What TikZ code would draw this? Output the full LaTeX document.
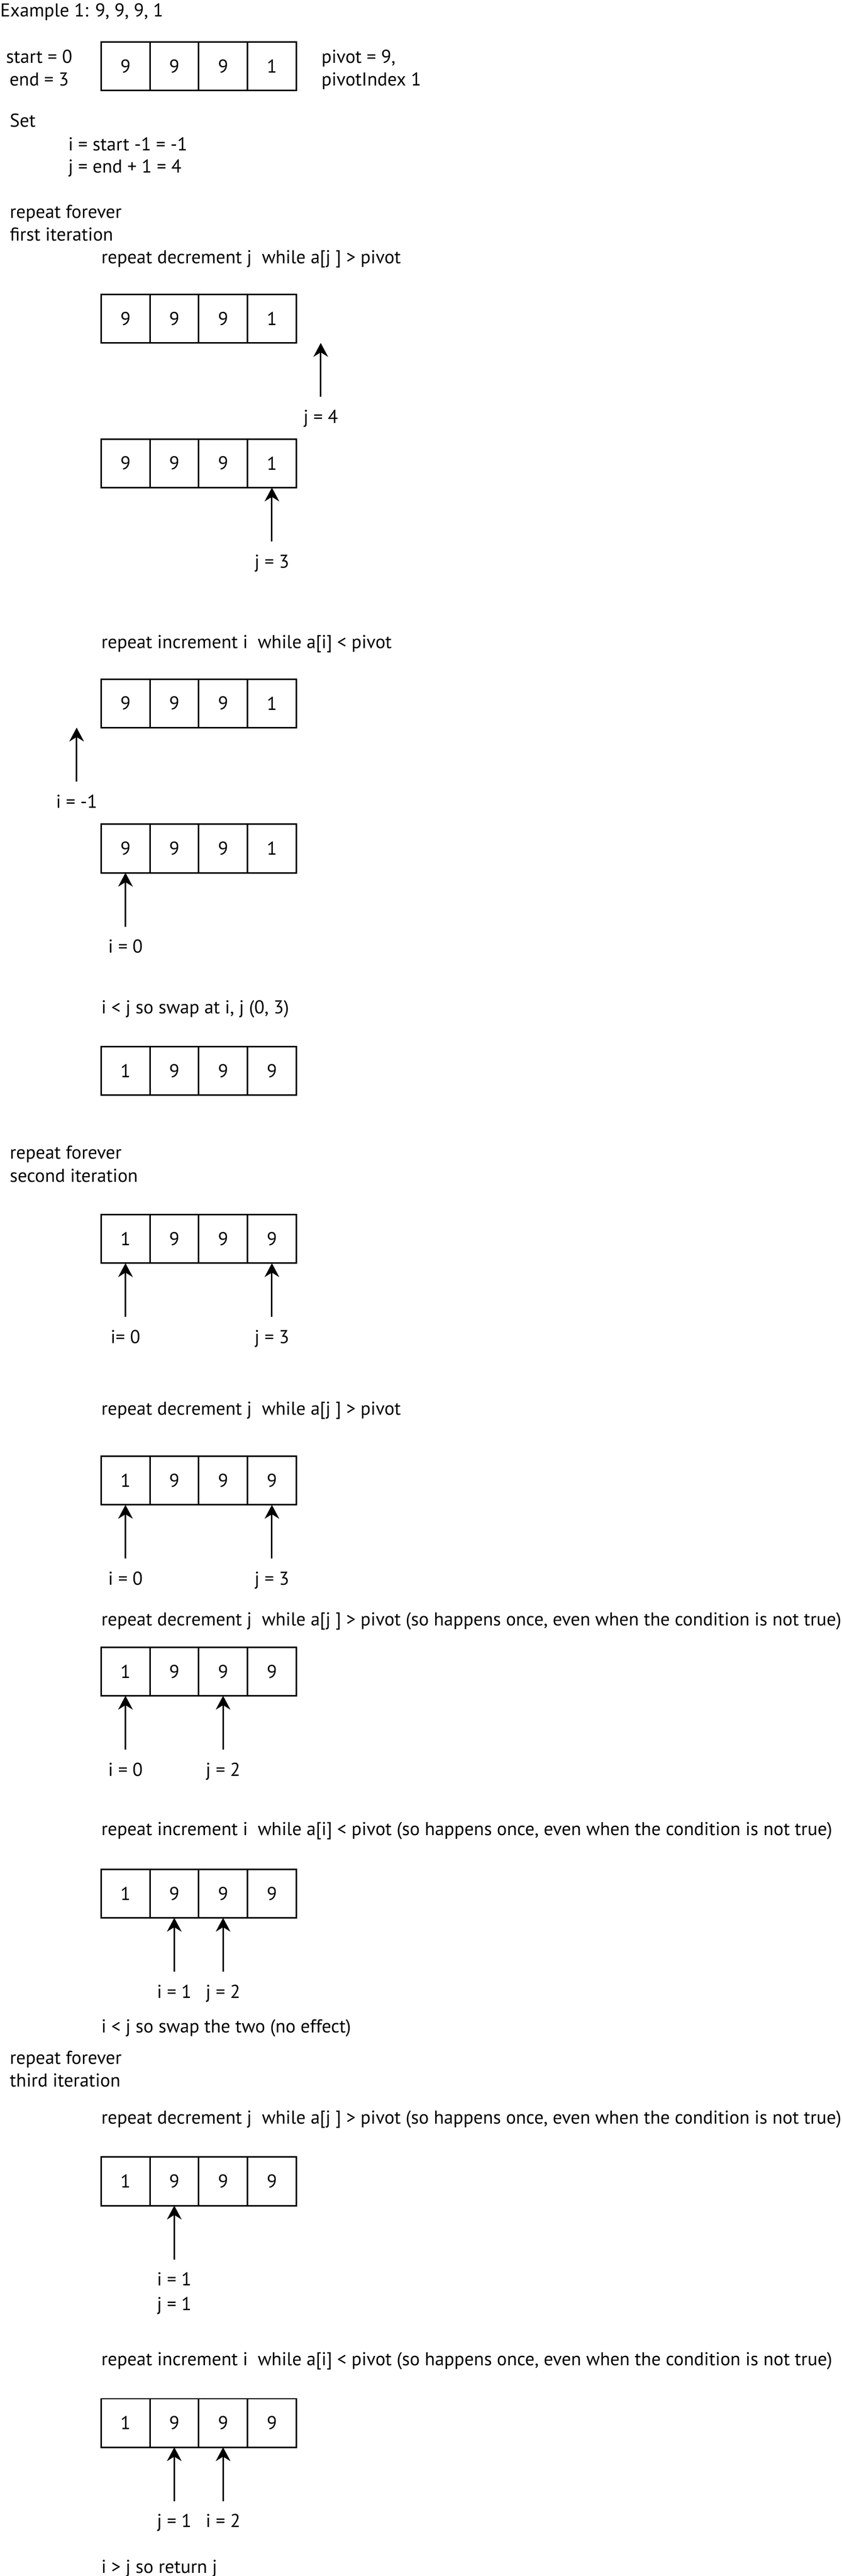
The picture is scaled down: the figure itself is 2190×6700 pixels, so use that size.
\documentclass[tikz,border=0pt]{standalone}
\usepackage{fontspec}
\setmainfont{PT Sans}
\usetikzlibrary{arrows.meta, positioning}
\tikzset{
    cell/.style = {rectangle, draw=black, line width=0.04cm, minimum width=1.27cm, minimum height=1.26cm, inner sep=0pt, outer sep=0pt},
    note/.style = {anchor=base west, inner sep=0pt},
    ptrlabel/.style = {inner sep=0pt, text height=0.34cm, text depth=0.11cm},
    ptr/.style = {line width=0.04cm, -{Stealth[length=0.36cm, width=0.38cm]}, shorten <=0.34cm}
}

\begin{document}
\begin{tikzpicture}[x=0.01cm, y=-0.01cm, font=\fontsize{13.8}{18}\selectfont]
\useasboundingbox (0,0) rectangle (2190,6700);

% Setup
\node (title) [note] at (0,44) {Example 1: 9, 9, 9, 1};
\node (start) [note, anchor=base] at (102,164) {start = 0};
\node (end) [note, anchor=base] at (102,223) {end = 3};
\foreach \v [count=\k from 0] in {9,9,9,1} \node (init-\k) [cell] at (326.5+127*\k,172.5) {\v};
\node (pivot) [note] at (836,164) {pivot = 9,};
\node (pivotIdx) [note] at (836,223) {pivotIndex 1};
\node (set) [note] at (25,330) {Set};
\node (setI) [note] at (177,392) {i = start -1 = -1};
\node (setJ) [note] at (177,450) {j = end + 1 = 4};

% First iteration
\node (rep1) [note] at (25,568) {repeat forever};
\node (iter1) [note] at (25,627) {first iteration};
\node (decTxtA) [note] at (263,686) {repeat decrement j\ \ while a[j ] > pivot};
\foreach \v [count=\k from 0] in {9,9,9,1} \node (decA-\k) [cell] at (326.5+127*\k,829) {\v};
\coordinate (decA-4) at ([xshift=1.27cm]decA-3.south);
\node (jDecA) [ptrlabel, below=1.74cm of decA-4] {j = 4};
\draw [ptr] (jDecA) -- (decA-4);
\foreach \v [count=\k from 0] in {9,9,9,1} \node (decB-\k) [cell] at (326.5+127*\k,1205) {\v};
\node (jDecB) [ptrlabel, below=1.74cm of decB-3.south] {j = 3};
\draw [ptr] (jDecB) -- (decB-3.south);

\node (incTxtA) [note] at (263,1687) {repeat increment i\ \ while a[i] < pivot};
\foreach \v [count=\k from 0] in {9,9,9,1} \node (incA-\k) [cell] at (326.5+127*\k,1829.5) {\v};
\coordinate (incA-m) at ([xshift=-1.27cm]incA-0.south);
\node (iIncA) [ptrlabel, below=1.74cm of incA-m] {i = -1};
\draw [ptr] (iIncA) -- (incA-m);
\foreach \v [count=\k from 0] in {9,9,9,1} \node (incB-\k) [cell] at (326.5+127*\k,2207) {\v};
\node (iIncB) [ptrlabel, below=1.74cm of incB-0.south] {i = 0};
\draw [ptr] (iIncB) -- (incB-0.south);

\node (swapTxtA) [note] at (263,2636) {i < j so swap at i, j (0, 3)};
\foreach \v [count=\k from 0] in {1,9,9,9} \node (swapA-\k) [cell] at (326.5+127*\k,2785.5) {\v};

% Second iteration
\node (rep2) [note] at (25,3014) {repeat forever};
\node (iter2) [note] at (25,3074) {second iteration};
\foreach \v [count=\k from 0] in {1,9,9,9} \node (iterB-\k) [cell] at (326.5+127*\k,3222.5) {\v};
\node (iIterB) [ptrlabel, below=1.74cm of iterB-0.south] {i= 0};
\node (jIterB) [ptrlabel, below=1.74cm of iterB-3.south] {j = 3};
\draw [ptr] (iIterB) -- (iterB-0.south);
\draw [ptr] (jIterB) -- (iterB-3.south);

\node (decTxtC) [note] at (263,3680) {repeat decrement j\ \ while a[j ] > pivot};
\foreach \v [count=\k from 0] in {1,9,9,9} \node (decC-\k) [cell] at (326.5+127*\k,3851) {\v};
\node (iDecC) [ptrlabel, below=1.74cm of decC-0.south] {i = 0};
\node (jDecC) [ptrlabel, below=1.74cm of decC-3.south] {j = 3};
\draw [ptr] (iDecC) -- (decC-0.south);
\draw [ptr] (jDecC) -- (decC-3.south);

\node (decTxtD) [note] at (263,4228) {repeat decrement j\ \ while a[j ] > pivot (so happens once, even when the condition is not true)};
\foreach \v [count=\k from 0] in {1,9,9,9} \node (decD-\k) [cell] at (326.5+127*\k,4347.5) {\v};
\node (iDecD) [ptrlabel, below=1.74cm of decD-0.south] {i = 0};
\node (jDecD) [ptrlabel, below=1.74cm of decD-2.south] {j = 2};
\draw [ptr] (iDecD) -- (decD-0.south);
\draw [ptr] (jDecD) -- (decD-2.south);

\node (incTxtC) [note] at (263,4774) {repeat increment i\ \ while a[i] < pivot (so happens once, even when the condition is not true)};
\foreach \v [count=\k from 0] in {1,9,9,9} \node (incC-\k) [cell] at (326.5+127*\k,4925) {\v};
\node (iIncC) [ptrlabel, below=1.74cm of incC-1.south] {i = 1};
\node (jIncC) [ptrlabel, below=1.74cm of incC-2.south] {j = 2};
\draw [ptr] (iIncC) -- (incC-1.south);
\draw [ptr] (jIncC) -- (incC-2.south);
\node (swapTxtC) [note] at (263,5287) {i < j so swap the two (no effect)};

% Third iteration
\node (rep3) [note] at (25,5368) {repeat forever};
\node (iter3) [note] at (25,5428) {third iteration};
\node (decTxtE) [note] at (263,5524) {repeat decrement j\ \ while a[j ] > pivot (so happens once, even when the condition is not true)};
\foreach \v [count=\k from 0] in {1,9,9,9} \node (decE-\k) [cell] at (326.5+127*\k,5673.5) {\v};
\node (iDecE) [ptrlabel, below=1.74cm of decE-1.south] {i = 1};
\node (jDecE) [ptrlabel, below=0.17cm of iDecE] {j = 1};
\draw [ptr] (iDecE) -- (decE-1.south);

\node (incTxtD) [note] at (263,6153) {repeat increment i\ \ while a[i] < pivot (so happens once, even when the condition is not true)};
\foreach \v [count=\k from 0] in {1,9,9,9} \node (incD-\k) [cell] at (326.5+127*\k,6302) {\v};
\node (jIncD) [ptrlabel, below=1.74cm of incD-1.south] {j = 1};
\node (iIncD) [ptrlabel, below=1.74cm of incD-2.south] {i = 2};
\draw [ptr] (jIncD) -- (incD-1.south);
\draw [ptr] (iIncD) -- (incD-2.south);
\node (retTxt) [note] at (263,6692) {i > j so return j};

\end{tikzpicture}
\end{document}
